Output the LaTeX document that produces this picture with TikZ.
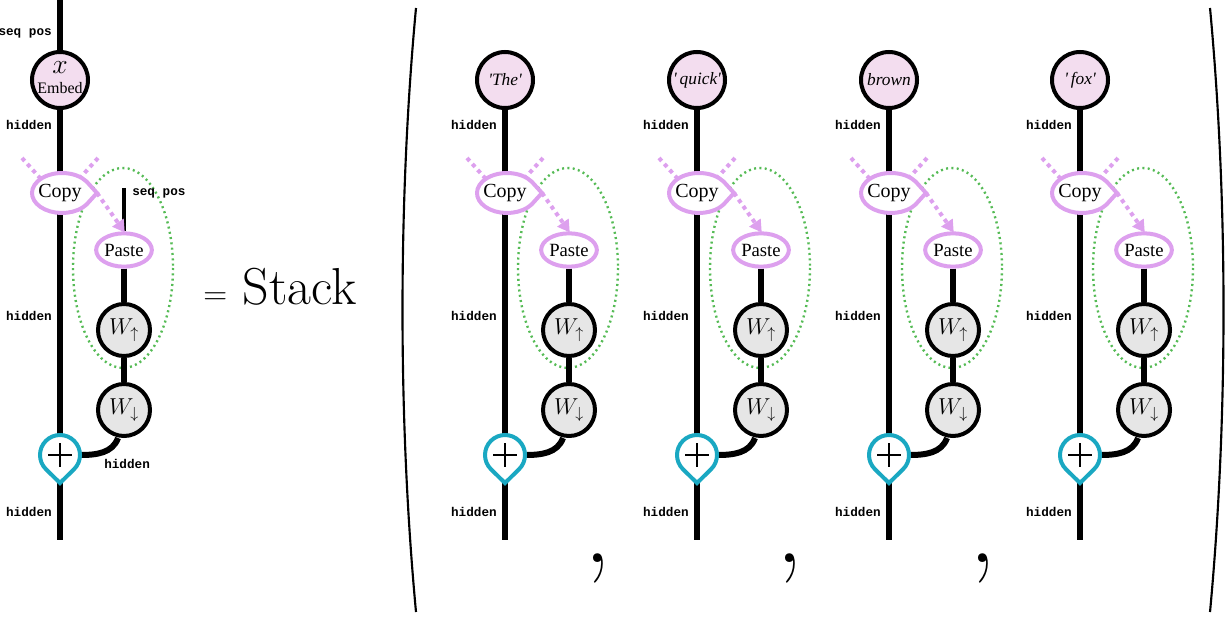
\documentclass[tikz,border=0pt]{standalone}
\usepackage{fontspec}
\newfontfamily\tms{Liberation Serif}
\newfontfamily\mono{Liberation Mono}
\usetikzlibrary{arrows.meta,calc,shapes.geometric}
\definecolor{pinkfill}{HTML}{F3DDEF}
\definecolor{pinkline}{HTML}{DDA0EE}
\definecolor{teal}{HTML}{1AA8C2}
\definecolor{grayfill}{HTML}{E6E6E6}
\definecolor{greendot}{HTML}{55BB55}
\tikzset{
  wire/.style={line width=4.5pt},
  thinwire/.style={line width=2.6pt},
  lbl/.style={font=\mono\bfseries\fontsize{9.5}{10}\selectfont, inner sep=0pt},
  tok/.style={circle, draw, line width=3pt, fill=pinkfill, minimum size=42pt, inner sep=0pt, font=\tms\itshape\fontsize{13}{14}\selectfont},
  wnode/.style={circle, draw, line width=3pt, fill=grayfill, minimum size=39pt, inner sep=0pt, font=\fontsize{18}{20}\selectfont},
  paste/.style={ellipse, draw=pinkline, line width=3pt, fill=white, minimum width=40pt, minimum height=25pt, inner sep=0pt, font=\tms\fontsize{14}{15}\selectfont},
  pinkdot/.style={draw=pinkline, line width=3pt, dash pattern=on 3pt off 3pt},
  greenell/.style={draw=greendot, line width=1.8pt, dash pattern=on 1.5pt off 2.5pt},
  comma/.style={font=\fontsize{80}{80}\selectfont, inner sep=0pt},
}
% #1 x of main line, #2 id, #3 token text, #4 left flag (1 = left diagram)
\newcommand{\myblock}[4]{%
  \begin{scope}[xshift=#1*0.75pt]
  \ifnum#4=1
    \node[tok] (#2t) at (0,80) {};
    \node[font=\fontsize{20}{20}\selectfont, inner sep=0pt] (#2x) at (0,68) {$x$};
    \node[font=\tms\fontsize{12}{12}\selectfont, inner sep=0pt] (#2em) at (0,88) {Embed};
    \coordinate (#2top) at (0,0);
    \draw[wire] (#2top) -- (#2t);
    \node[lbl, anchor=east] at (-8,33) {seq pos};
  \else
    \node[tok] (#2t) at (0,80) {#3};
  \fi
  \node[lbl, anchor=east] at (-8,125) {hidden};
  \node[lbl, anchor=east] at (-8,316) {hidden};
  \node[lbl, anchor=east] at (-8,512) {hidden};
  \coordinate (#2bot) at (0,540);
  \coordinate (#2pc) at (0,455);
  \coordinate (#2cc) at (2,193);
  \draw[wire] (#2t) -- (#2bot);
  \draw[greenell] (63,268) ellipse [x radius=50, y radius=100];
  \node[paste] (#2paste) at (64,250) {Paste};
  \node[wnode] (#2wu) at (64,330) {$W_{\uparrow}$};
  \node[wnode] (#2wd) at (64,410) {$W_{\downarrow}$};
  \draw[wire] (#2paste) -- (#2wu);
  \draw[wire] (#2wu) -- (#2wd);
  \ifnum#4=1
    \coordinate (#2sp) at (64,188);
    \draw[thinwire] (#2sp) -- (#2paste);
    \node[lbl, anchor=west] at (72,193) {seq pos};
    \node[lbl, anchor=west] at (44,464) {hidden};
  \fi
  \draw[wire] (#2wd.south) ++(-6,0) to[out=-110,in=0] (20,455);
  \draw[line width=3pt, draw=teal, fill=white] (0,483) -- ($(#2pc)+(45:20)$) arc[start angle=45, end angle=-225, radius=20] -- cycle;
  \node[inner sep=0pt, minimum size=30pt, circle] (#2plus) at (#2pc) {};
  \draw[line width=1.2pt] (-12,455) -- (12,455) (0,443) -- (0,467);
  \draw[pinkdot] (-38,158) -- (-20,178);
  \draw[pinkdot] (38,158) -- (20,178);
  \draw[line width=3pt, draw=pinkline, fill=white] (37,193) -- ($(#2cc)+(35:30 and 20)$) arc[start angle=35, end angle=325, x radius=30, y radius=20] -- cycle;
  \node[font=\tms\fontsize{15}{16}\selectfont] (#2copy) at (0,193) {Copy};
  \coordinate (#2tip) at (37,193);
  \draw[pinkdot, -{Triangle[length=9pt,width=10pt,fill=pinkline]}, shorten >=-1pt] (#2tip) -- (#2paste.north);
  \end{scope}
}
\begin{document}
\begin{tikzpicture}[x=0.75pt, y=-0.75pt]
\useasboundingbox (0,0) rectangle (1230,620);
\myblock{60}{a}{}{1}
\node[font=\fontsize{39}{44}\selectfont, anchor=west, inner sep=0pt] (eq) at (203,287) {$=$\ Stack};
\draw[line width=1.6pt] (416,8) .. controls (398,200) and (398,420) .. (416,612);
\draw[line width=1.6pt] (1210,8) .. controls (1228,200) and (1228,420) .. (1210,612);
\myblock{505}{b}{'The'}{0}
\myblock{697}{c}{'\,quick'}{0}
\myblock{889}{d}{brown}{0}
\myblock{1080}{e}{'\,fox'}{0}
\node[comma] (c1) at (598,568) {,};
\node[comma] (c2) at (790,568) {,};
\node[comma] (c3) at (983,568) {,};
\end{tikzpicture}
\end{document}
